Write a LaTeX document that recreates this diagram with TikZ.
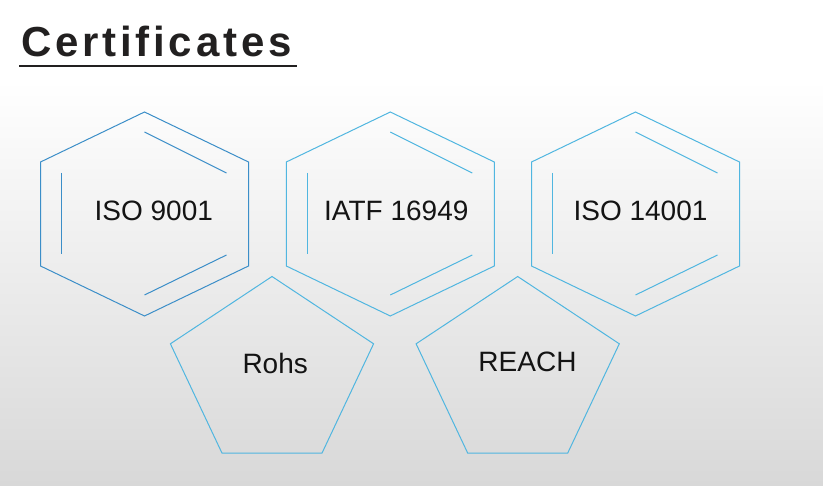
\documentclass[tikz,border=0pt]{standalone}
\usepackage{fontspec}
\setmainfont{Liberation Sans}
\newfontfamily\titlefont[LetterSpace=9]{Liberation Sans}
\usetikzlibrary{positioning}

\definecolor{hexblue}{RGB}{59,142,200}
\definecolor{hexcyan}{RGB}{80,182,224}
\definecolor{bgbottom}{RGB}{216,216,216}
\definecolor{inkgray}{RGB}{34,32,32}

\begin{document}
\begin{tikzpicture}[x=1pt,y=-1pt,
  outline/.style={line width=1pt},
  label node/.style={font=\fontsize{28}{32}\selectfont,text=black!92,inner sep=0pt},
  title node/.style={font=\titlefont\bfseries\fontsize{42}{48}\selectfont,text=inkgray,inner sep=0pt,anchor=base west}]

  \useasboundingbox (0,0) rectangle (823,486);
  \fill[white] (0,0) rectangle (823,80);
  \shade[top color=white,bottom color=bgbottom] (0,80) rectangle (823,486);

  % title
  \node[title node] (title) at (21,57) {Certificates};
  \draw[inkgray,line width=2.2pt] (19,66) -- (297,66);

  % hexagons
  \foreach \cx/\tx/\col/\nm/\txt in {144.5/153.8/hexblue/iso9001/ISO 9001,
      390.3/396.3/hexcyan/iatf/IATF 16949, 635.5/640.5/hexcyan/iso14001/ISO 14001}{
    \begin{scope}[shift={(\cx,214)},\col]
      \draw[outline] (0,-102) -- (104,-52) -- (104,52) -- (0,102) -- (-104,52) -- (-104,-52) -- cycle;
      \draw[outline] (-83,-41) -- (-83,40);
      \draw[outline] (0,-82) -- (82,-41);
      \draw[outline] (82,41) -- (0,81);
    \end{scope}
    \node[label node] (\nm) at (\tx,211) {\txt};
  }

  % pentagons
  \foreach \px/\tx/\ty/\nm/\txt in {272/275.2/363.5/rohs/Rohs, 517.7/527.5/362/reach/REACH}{
    \draw[outline,hexcyan] (\px,276.5) -- ++(101.6,67.3) -- ++(-51.6,109.3) -- ++(-100,0)
      -- ++(-51.6,-109.3) -- cycle;
    \node[label node] (\nm) at (\tx,\ty) {\txt};
  }
\end{tikzpicture}
\end{document}
